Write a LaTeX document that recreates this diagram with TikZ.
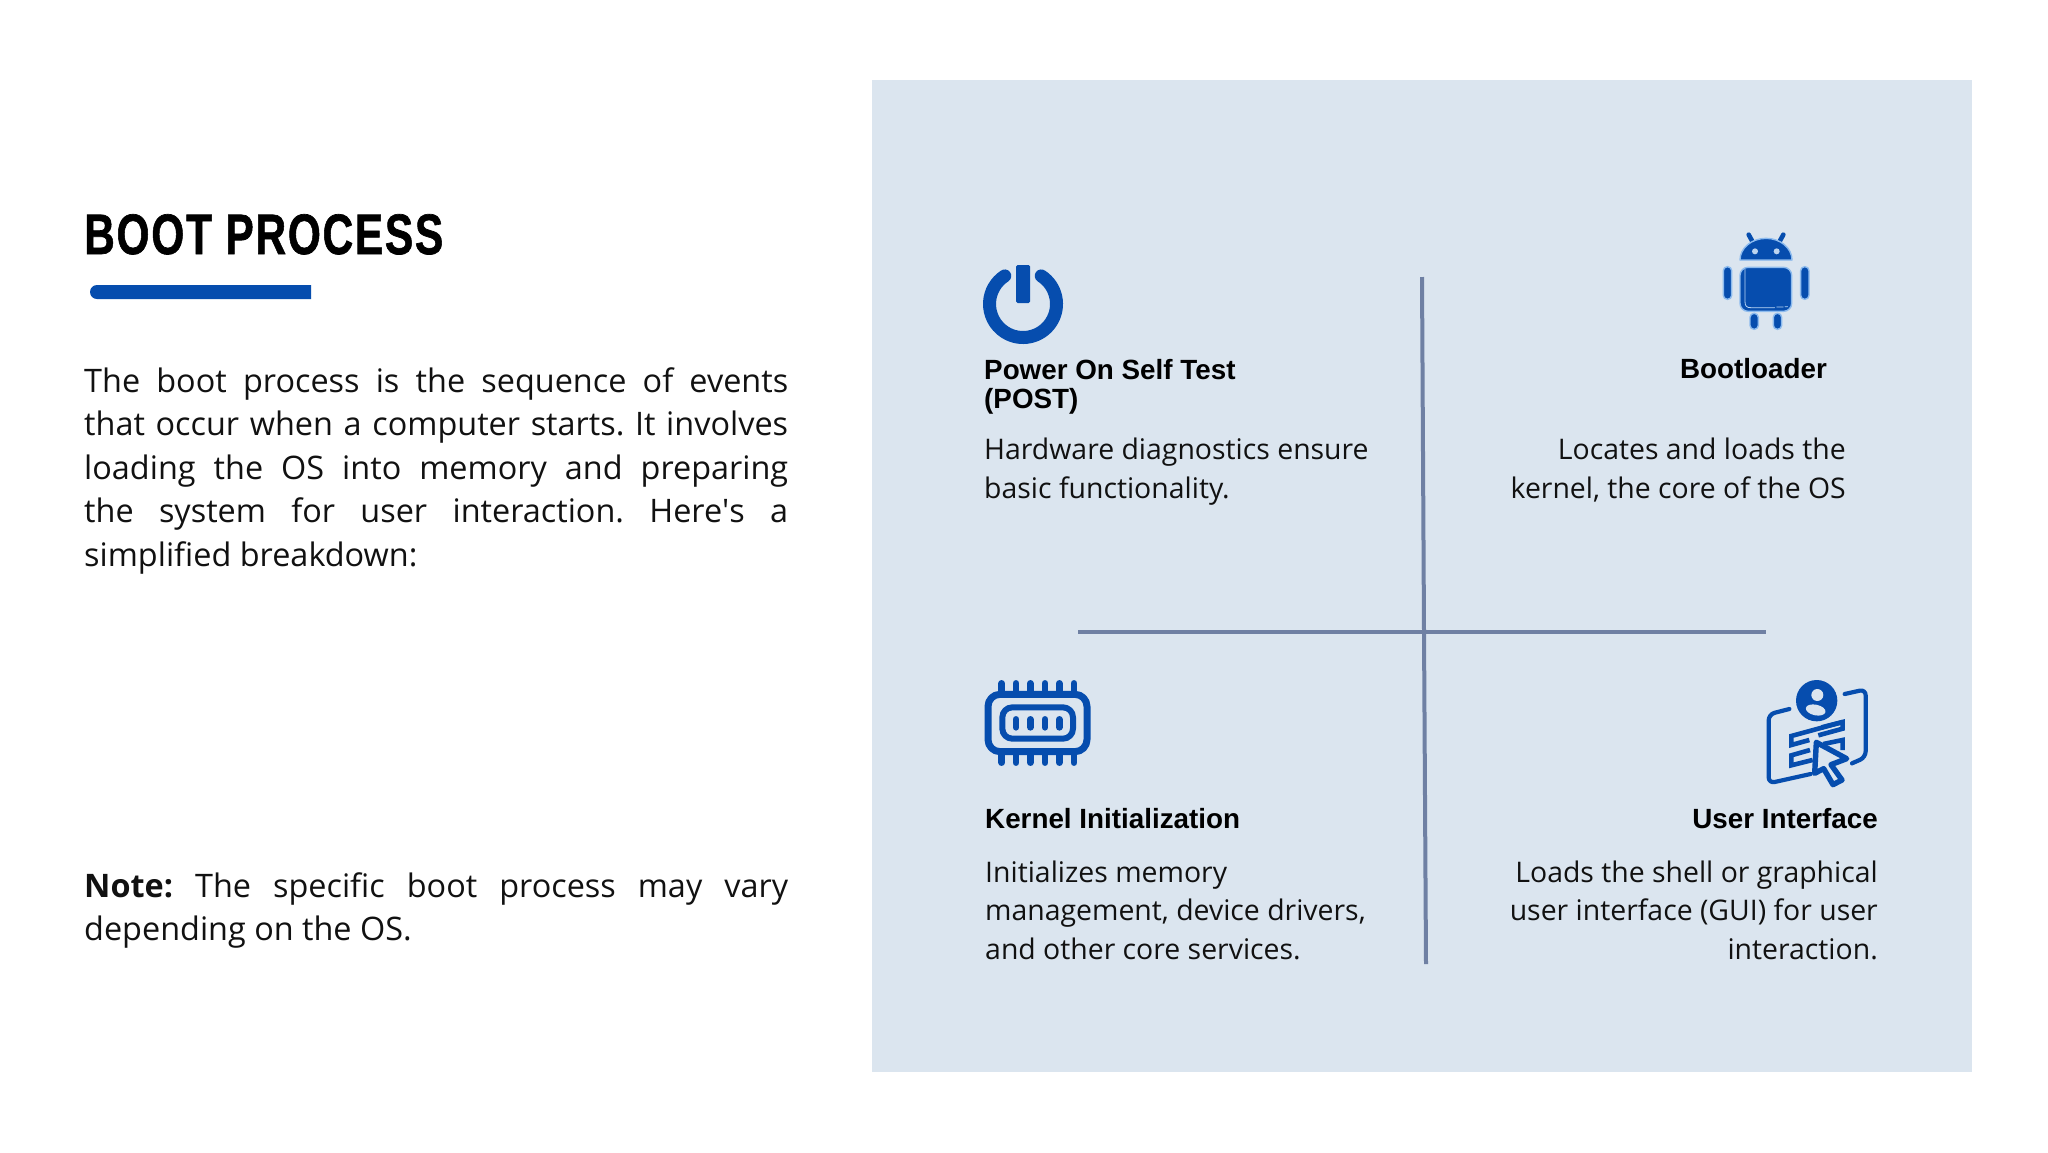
\documentclass[tikz,border=0pt]{standalone}
\usepackage{fontspec}
\setmainfont{Open Sans}
\newfontfamily\headfont{Liberation Sans}
\newfontfamily\titlefont[LetterSpace=4,BoldFeatures={FakeBold=1.2,LetterSpace=4}]{Liberation Sans}
\definecolor{panel}{HTML}{DBE5EF}
\definecolor{bluei}{HTML}{064DAE}
\definecolor{glow}{HTML}{8DBBEE}
\definecolor{rule}{HTML}{6F80A3}
\definecolor{ink}{HTML}{111111}
\tikzset{
 body/.style={anchor=base west,inner sep=0pt,align=left,text=ink,font=\fontsize{28.4}{38.3}\selectfont},
 bodyr/.style={anchor=base east,inner sep=0pt,align=right,text=ink,font=\fontsize{28.4}{38.3}\selectfont},
 para/.style={anchor=base west,inner sep=0pt,text width=704pt,align=justify,text=ink,font=\fontsize{32.4}{43.6}\selectfont\frenchspacing},
 head/.style={inner sep=0pt,text=black,font=\headfont\bfseries\fontsize{27.8}{30}\selectfont},
 axis/.style={draw=rule,line width=4pt},
 ic/.style={draw=bluei,fill=none,line cap=round,line join=round},
}
\begin{document}
\begin{tikzpicture}[x=1pt,y=-1pt]
\useasboundingbox (0,0) rectangle (2048,1152);
\fill[white] (0,0) rectangle (2048,1152);
\fill[panel] (872,80) rectangle (1972,1072);
% left column
\node[anchor=base west,inner sep=0pt,text=black] (title) at (84,254) {\scalebox{.745}[1]{\titlefont\bfseries\fontsize{57}{60}\selectfont BOOT PROCESS}};
\fill[bluei] (311,285) -- (97,285) arc[start angle=270,end angle=90,radius=7] -- (311,299) -- cycle;
\node[para] (intro) at (84,392) {The boot process is the sequence of events\linebreak that occur when a computer starts. It involves\linebreak loading the OS into memory and preparing\linebreak the system for user interaction. Here\textquotesingle s a\linebreak simplified breakdown:};
\node[para] (note) at (84,897) {\textbf{Note:} The specific boot process may vary\linebreak depending on the OS.};
% axes
\coordinate (vt) at (1422,277);
\coordinate (vm) at (1424,632);
\coordinate (vb) at (1426,964);
\coordinate (hl) at (1078,632);
\coordinate (hr) at (1766,632);
\draw[axis] (vt) -- (vm) -- (vb);
\draw[axis] (hl) -- (hr);
% quadrant texts
\node[head,anchor=base west] (t1) at (984,379) {Power On Self Test};
\node[head,anchor=base west] (t1b) at (984,408) {(POST)};
\node[body] (b1) at (984,498) {Hardware diagnostics ensure\\basic functionality.};
\node[head,anchor=base east] (t2) at (1827,378) {Bootloader};
\node[bodyr] (b2) at (1846,498) {Locates and loads the\\kernel, the core of the OS};
\node[head,anchor=base west] (t3) at (985,828) {Kernel Initialization};
\node[body] (b3) at (985,959) {Initializes memory\\management, device drivers,\\and other core services.};
\node[head,anchor=base east] (t4) at (1878,828) {User Interface};
\node[bodyr] (b4) at (1878,959) {Loads the shell or graphical\\user interface (GUI) for user\\interaction.};
% power icon
\draw[bluei,line width=13pt,line cap=round] (1023,304) ++(-57:33.5) arc[start angle=-57,end angle=237,radius=33.5];
\fill[bluei,rounded corners=1.5pt] (1016,265) rectangle (1030,303);
% android icon
\begin{scope}[shift={(1700,210)},x=.3333pt,y=-.3333pt]
\tikzset{andr/.style={fill=bluei,draw=glow,line width=1.4pt,line join=round}}
\draw[bluei,line width=4.6pt,line cap=round] (146,74) -- (156,92) (250,74) -- (240,92);
\draw[andr] (120,150) arc[x radius=78,y radius=65,start angle=180,end angle=360] -- cycle;
\fill[panel!60!glow] (165,124) circle[radius=9] (230,124) circle[radius=9];
\draw[andr,rounded corners=8pt] (120,172) rectangle (275,304);
\draw[andr,rounded corners=4pt] (70,170) rectangle (95,268);
\draw[andr,rounded corners=4pt] (302,170) rectangle (327,268);
\draw[andr,rounded corners=4pt] (150,310) rectangle (175,358);
\draw[andr,rounded corners=4pt] (220,310) rectangle (245,358);
\draw[glow!60!white,line width=.8pt,line cap=round] (135,178) -- (135,275) .. controls (135,288) and (140,293) .. (152,293) -- (224,293) (230,291) -- (250,291) (255,290) -- (263,290);
\end{scope}
% memory chip icon
\begin{scope}[shift={(970,660)},x=.3333pt,y=-.3333pt]
\draw[ic,line width=7pt,rounded corners=12pt] (54,103) rectangle (351,275);
\draw[ic,line width=6pt,rounded corners=10pt] (97,142) rectangle (309,236);
\foreach \px in {95,138,181,225,268,312} {
  \draw[ic,line width=6.6pt] (\px,70) -- (\px,100);
  \draw[ic,line width=6.6pt] (\px,278) -- (\px,308);
}
\foreach \px in {138,181,225,268} {
  \draw[ic,line width=6.6pt] (\px,178) -- (\px,202);
}
\end{scope}
% user interface icon
\begin{scope}[shift={(1750,670)},x=.3333pt,y=-.3333pt]
\draw[ic,line width=4.2pt,rounded corners=6pt] (118,117) -- (56,133) -- (56,340) -- (182,312);
\draw[ic,line width=4.2pt,rounded corners=6pt] (284,72) -- (347,58) -- (347,262) -- (306,280);
\fill[bluei] (200,92) ellipse[x radius=62,y radius=62];
\fill[panel] (202,75) ellipse[x radius=18,y radius=18];
\fill[panel,rotate around={-12:(197,120)}] (197,120) ellipse[x radius=30,y radius=16];
\draw[ic,line width=4.6pt,line cap=butt,line join=miter] (215,172) -- (278,156) -- (278,176) -- (205,196);
\draw[ic,line width=4.6pt,line cap=butt,line join=miter] (278,156) -- (124,198) -- (124,225) -- (178,210);
\draw[ic,line width=4.6pt,line cap=butt,line join=miter] (220,222) -- (278,210) -- (278,240);
\draw[ic,line width=4.6pt,line cap=butt,line join=miter] (180,240) -- (124,256) -- (124,286) -- (188,270);
\draw[ic,fill=panel,line width=5.4pt,line cap=butt] (199,217) -- (290,266) -- (243,284) -- (276,330) -- (249,344) -- (221,296) -- (194,310) -- cycle;
\end{scope}
\end{tikzpicture}
\end{document}
